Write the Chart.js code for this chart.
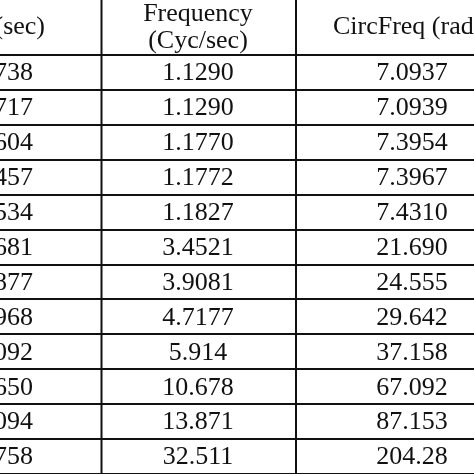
<!DOCTYPE html>
<html><head><meta charset="utf-8">
<script src="https://cdn.jsdelivr.net/npm/chart.js@4"></script>
<style>html,body{margin:0;padding:0;background:#fff}#c{display:block}</style>
</head><body>
<div style="width:474px;height:474px"><canvas id="c"></canvas></div>
<script>
// visible tail of the cut-off Period column
var periodTail = ['738','717','604','457','534','681','877','968','092','650','094','758'];
var frequency = ['1.1290','1.1290','1.1770','1.1772','1.1827','3.4521','3.9081','4.7177','5.914','10.678','13.871','32.511'];
var circFreq = ['7.0937','7.0939','7.3954','7.3967','7.4310','21.690','24.555','29.642','37.158','67.092','87.153','204.28'];
var headers = [['(sec)'], ['Frequency', '(Cyc/sec)'], ['CircFreq (rad/s']];

var colX = [33, 198, 412];
var colLines = [101.5, 296];
var headH = 1.58;

var pts = [];
for (var i = 0; i < frequency.length; i++) {
  pts.push({x: colX[1], y: i + 0.5});
}

var tablePlugin = {
  id: 'table',
  afterDraw: function(chart) {
    var ctx = chart.ctx, xs = chart.scales.x, ys = chart.scales.y;
    ctx.save();
    ctx.strokeStyle = '#111';
    ctx.lineWidth = 2;
    for (var r = 0; r <= frequency.length; r++) {
      var py = Math.round(ys.getPixelForValue(r));
      ctx.beginPath(); ctx.moveTo(0, py); ctx.lineTo(chart.width, py); ctx.stroke();
    }
    colLines.forEach(function(v) {
      var px = xs.getPixelForValue(v);
      ctx.beginPath(); ctx.moveTo(px, 0); ctx.lineTo(px, chart.height); ctx.stroke();
    });
    ctx.fillStyle = '#111';
    ctx.font = '26px "Liberation Serif", serif';
    ctx.textBaseline = 'middle';
    var cols = [periodTail, frequency, circFreq];
    cols.forEach(function(col, c) {
      ctx.textAlign = c === 0 ? 'right' : 'center';
      col.forEach(function(t, r) {
        ctx.fillText(t, xs.getPixelForValue(colX[c]), ys.getPixelForValue(r + 0.5) + 1);
      });
    });
    headers.forEach(function(h, c) {
      var x = c === 0 ? 45 : colX[c];
      ctx.textAlign = c === 0 ? 'right' : 'center';
      if (h.length === 1) {
        ctx.fillText(h[0], xs.getPixelForValue(x), ys.getPixelForValue(-headH / 2));
      } else {
        ctx.fillText(h[0], xs.getPixelForValue(x), 14);
        ctx.fillText(h[1], xs.getPixelForValue(x), 41);
      }
    });
    ctx.restore();
  }
};

new Chart(document.getElementById('c'), {
  type: 'scatter',
  data: { datasets: [{ data: pts, pointRadius: 0, showLine: false }] },
  options: {
    responsive: true,
    maintainAspectRatio: false,
    animation: false,
    layout: { padding: 0 },
    plugins: { legend: { display: false }, tooltip: { enabled: false } },
    scales: {
      x: { type: 'linear', min: 0, max: 474, display: false },
      y: { type: 'linear', min: -headH, max: 12, reverse: true, display: false }
    }
  },
  plugins: [tablePlugin]
});
</script>
</body></html>
